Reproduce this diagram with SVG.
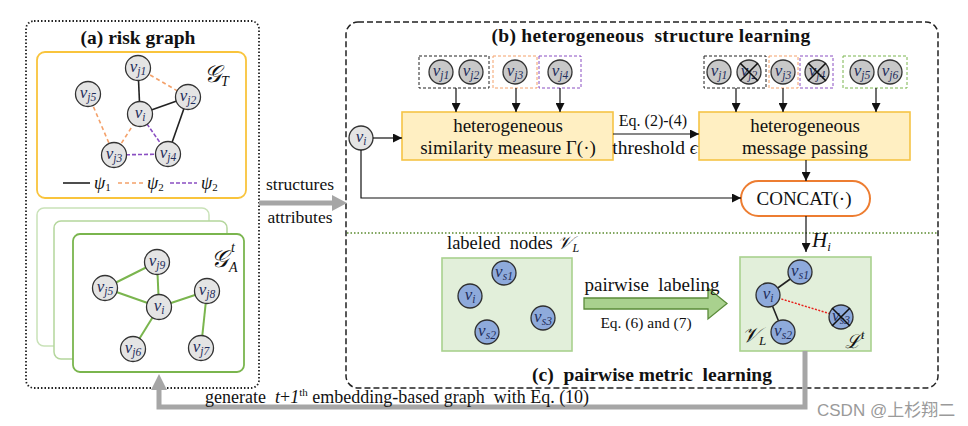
<svg xmlns="http://www.w3.org/2000/svg" width="968" height="426" viewBox="0 0 968 426">
<style>
text{font-family:"Liberation Serif","DejaVu Serif",serif;fill:#111}
.title{font-weight:bold;font-size:19.5px}
.lbl{font-size:19px}
.nd{fill:#e4e4e4;stroke:#333;stroke-width:1.3}
.ndg{fill:#c8c8c8;stroke:#333;stroke-width:1.3}
.ndb{fill:#8eaadb;stroke:#2f2f2f;stroke-width:1.3}
.nt{font-size:17px;font-style:italic;fill:#1f2d5a;text-anchor:middle}
.nt tspan.s{font-size:11.5px}
.k{stroke:#222;stroke-width:1.6;fill:none}
.o{stroke:#f4a16a;stroke-width:1.6;stroke-dasharray:4 3;fill:none}
.p{stroke:#8a4fc2;stroke-width:1.6;stroke-dasharray:4 2;fill:none}
.g{stroke:#7ab54e;stroke-width:2;fill:none}
.ar{stroke:#111;stroke-width:1.2;fill:none;marker-end:url(#ah)}
.yb{fill:#ffefc2;stroke:#f6c445;stroke-width:1.6}
.x{stroke:#111;stroke-width:1.6}
.math{font-style:italic}
</style>
<defs>
<marker id="ah" viewBox="0 0 10 10" refX="10" refY="5" markerWidth="9" markerHeight="9" markerUnits="userSpaceOnUse" orient="auto"><path d="M0,0 L10,5 L0,10 z" fill="#111"/></marker>
</defs>
<rect width="968" height="426" fill="#fff"/>

<g id="panel-a">
<rect x="26" y="21" width="233" height="367" rx="8" fill="none" stroke="#222" stroke-width="1.8" stroke-dasharray="1.5 2"/>
<text class="title" x="138" y="44" text-anchor="middle">(a) risk graph</text>
</g>
<g id="panel-bc">
<rect x="346" y="22" width="592" height="366" rx="12" fill="none" stroke="#222" stroke-width="1.5" stroke-dasharray="6 3"/>
<line x1="347" y1="233" x2="937" y2="233" stroke="#5a8a2e" stroke-width="1.5" stroke-dasharray="1.5 2"/>
<text class="title" x="651" y="42" text-anchor="middle" font-size="18.5" letter-spacing="0.3" xml:space="preserve">(b) heterogeneous  structure learning</text>
<text class="title" x="652" y="381" text-anchor="middle" xml:space="preserve">(c)  pairwise metric  learning</text>
</g>

<g id="graph-T">
<rect x="37" y="52" width="209" height="146" rx="8" fill="#fff" stroke="#f9c43c" stroke-width="1.8"/>
<line class="k" x1="138" y1="68" x2="140" y2="114"/>
<line class="k" x1="140" y1="114" x2="188" y2="97"/>
<line class="k" x1="188" y1="97" x2="168" y2="154"/>
<line class="o" x1="138" y1="68" x2="188" y2="97"/>
<line class="o" x1="88" y1="94" x2="114" y2="155"/>
<line class="o" x1="114" y1="155" x2="140" y2="114"/>
<line class="p" x1="140" y1="114" x2="168" y2="154"/>
<line class="p" x1="114" y1="155" x2="168" y2="154"/>
<g><circle class="nd" cx="138" cy="68" r="12.5"/><text class="nt" x="138" y="72">v<tspan class="s" dy="3">j1</tspan></text></g>
<g><circle class="nd" cx="88" cy="94" r="12.5"/><text class="nt" x="88" y="98">v<tspan class="s" dy="3">j5</tspan></text></g>
<g><circle class="nd" cx="188" cy="97" r="12.5"/><text class="nt" x="188" y="101">v<tspan class="s" dy="3">j2</tspan></text></g>
<g><circle class="nd" cx="140" cy="114" r="12.5"/><text class="nt" x="140" y="118">v<tspan class="s" dy="3">i</tspan></text></g>
<g><circle class="nd" cx="114" cy="155" r="12.5"/><text class="nt" x="114" y="159">v<tspan class="s" dy="3">j3</tspan></text></g>
<g><circle class="nd" cx="168" cy="154" r="12.5"/><text class="nt" x="168" y="158">v<tspan class="s" dy="3">j4</tspan></text></g>
<text x="204" y="82" font-size="24" class="math">𝒢<tspan font-size="14" dy="4">T</tspan></text>
<line class="k" x1="63" y1="183" x2="90" y2="183"/>
<text x="94" y="189" font-size="18" class="math" fill="#1f2d5a">ψ<tspan font-size="11" font-style="normal" dy="2">1</tspan></text>
<line class="o" x1="118" y1="183" x2="143" y2="183"/>
<text x="147" y="189" font-size="18" class="math" fill="#1f2d5a">ψ<tspan font-size="11" font-style="normal" dy="2">2</tspan></text>
<line class="p" x1="170" y1="183" x2="197" y2="183"/>
<text x="201" y="189" font-size="18" class="math" fill="#1f2d5a">ψ<tspan font-size="11" font-style="normal" dy="2">2</tspan></text>
</g>

<g id="graph-A">
<rect x="37" y="208" width="172" height="138" rx="7" fill="#fff" stroke="#c9e2b8" stroke-width="1.5"/>
<rect x="54" y="221" width="173" height="138" rx="7" fill="#fff" stroke="#b4d69c" stroke-width="1.5"/>
<rect x="73" y="234" width="171" height="138" rx="7" fill="#fff" stroke="#7ab54e" stroke-width="1.8"/>
<line class="g" x1="157" y1="262" x2="105" y2="288"/>
<line class="g" x1="157" y1="262" x2="159" y2="307"/>
<line class="g" x1="105" y1="288" x2="159" y2="307"/>
<line class="g" x1="159" y1="307" x2="207" y2="291"/>
<line class="g" x1="207" y1="291" x2="201" y2="348"/>
<line class="g" x1="159" y1="307" x2="133" y2="349"/>
<g><circle class="nd" cx="157" cy="262" r="12.5"/><text class="nt" x="157" y="266">v<tspan class="s" dy="3">j9</tspan></text></g>
<g><circle class="nd" cx="105" cy="288" r="12.5"/><text class="nt" x="105" y="292">v<tspan class="s" dy="3">j5</tspan></text></g>
<g><circle class="nd" cx="159" cy="307" r="12.5"/><text class="nt" x="159" y="311">v<tspan class="s" dy="3">i</tspan></text></g>
<g><circle class="nd" cx="207" cy="291" r="12.5"/><text class="nt" x="207" y="295">v<tspan class="s" dy="3">j8</tspan></text></g>
<g><circle class="nd" cx="133" cy="349" r="12.5"/><text class="nt" x="133" y="353">v<tspan class="s" dy="3">j6</tspan></text></g>
<g><circle class="nd" cx="201" cy="348" r="12.5"/><text class="nt" x="201" y="352">v<tspan class="s" dy="3">j7</tspan></text></g>
<text x="211" y="267" font-size="24" class="math">𝒢</text>
<text x="229" y="272" font-size="14" class="math">A</text>
<text x="231" y="252" font-size="14" class="math">t</text>
</g>

<g id="grp-b1">
<rect x="419" y="56" width="70" height="32" fill="#fff" stroke="#222" stroke-width="1" stroke-dasharray="3 2"/>
<circle class="ndg" cx="441" cy="72" r="12"/><text class="nt" x="441" y="76">v<tspan class="s" dy="3">j1</tspan></text>
<circle class="ndg" cx="471" cy="72" r="12"/><text class="nt" x="471" y="76">v<tspan class="s" dy="3">j2</tspan></text>
</g>
<g id="grp-b2">
<rect x="493" y="56" width="44" height="32" fill="#fff" stroke="#f4a16a" stroke-width="1" stroke-dasharray="3 2"/>
<circle class="ndg" cx="515" cy="72" r="12"/><text class="nt" x="515" y="76">v<tspan class="s" dy="3">j3</tspan></text>
</g>
<g id="grp-b3">
<rect x="539" y="56" width="42" height="32" fill="#fff" stroke="#8a4fc2" stroke-width="1" stroke-dasharray="3 2"/>
<circle class="ndg" cx="560" cy="72" r="12"/><text class="nt" x="560" y="76">v<tspan class="s" dy="3">j4</tspan></text>
</g>

<g id="grp-c1">
<rect x="704" y="56" width="62" height="32" fill="#fff" stroke="#222" stroke-width="1" stroke-dasharray="3 2"/>
<circle class="ndg" cx="719" cy="72" r="12"/><text class="nt" x="719" y="76">v<tspan class="s" dy="3">j1</tspan></text>
<circle class="ndg" cx="749" cy="72" r="12"/><text class="nt" x="749" y="76">v<tspan class="s" dy="3">j2</tspan></text>
<line class="x" x1="740" y1="63" x2="758" y2="81"/><line class="x" x1="758" y1="63" x2="740" y2="81"/>
</g>
<g id="grp-c2">
<rect x="769" y="56" width="29" height="32" fill="#fff" stroke="#f4a16a" stroke-width="1" stroke-dasharray="3 2"/>
<circle class="ndg" cx="783" cy="72" r="12"/><text class="nt" x="783" y="76">v<tspan class="s" dy="3">j3</tspan></text>
</g>
<g id="grp-c3">
<rect x="800" y="56" width="33" height="32" fill="#fff" stroke="#8a4fc2" stroke-width="1" stroke-dasharray="3 2"/>
<circle class="ndg" cx="817" cy="72" r="12"/><text class="nt" x="817" y="76">v<tspan class="s" dy="3">j4</tspan></text>
<line class="x" x1="808" y1="63" x2="826" y2="81"/><line class="x" x1="826" y1="63" x2="808" y2="81"/>
</g>
<g id="grp-c4">
<rect x="843" y="56" width="64" height="32" fill="#fff" stroke="#7ab54e" stroke-width="1" stroke-dasharray="3 2"/>
<circle class="ndg" cx="862" cy="72" r="12"/><text class="nt" x="862" y="76">v<tspan class="s" dy="3">j5</tspan></text>
<circle class="ndg" cx="890" cy="72" r="12"/><text class="nt" x="890" y="76">v<tspan class="s" dy="3">j6</tspan></text>
</g>

<g id="node-vi">
<circle class="nd" cx="361" cy="138" r="12"/><text class="nt" x="361" y="142">v<tspan class="s" dy="3">i</tspan></text>
</g>

<g id="sim-box">
<rect class="yb" x="402" y="112" width="211" height="48"/>
<text class="lbl" x="508" y="132" text-anchor="middle">heterogeneous</text>
<text class="lbl" x="508" y="154" text-anchor="middle">similarity measure Γ(·)</text>
</g>
<g id="msg-box">
<rect class="yb" x="699" y="112" width="211" height="48"/>
<text class="lbl" x="805" y="132" text-anchor="middle">heterogeneous</text>
<text class="lbl" x="805" y="154" text-anchor="middle">message passing</text>
</g>
<g id="concat">
<rect x="741" y="181" width="129" height="35" rx="17.5" fill="#fff" stroke="#ed7d31" stroke-width="2"/>
<text class="lbl" x="804" y="205" text-anchor="middle">CONCAT(·)</text>
</g>

<g id="labeled-nodes">
<text x="447" y="249" font-size="18.5" xml:space="preserve">labeled  nodes <tspan class="math">𝒱</tspan><tspan class="math" font-size="12" dy="3">L</tspan></text>
<rect x="442" y="258" width="130" height="93" fill="#e2efda" stroke="#a9d18e" stroke-width="1.6"/>
<circle class="ndb" cx="504" cy="273" r="12"/><text class="nt" x="504" y="277">v<tspan class="s" dy="3">s1</tspan></text>
<circle class="ndb" cx="470" cy="296" r="12"/><text class="nt" x="470" y="300">v<tspan class="s" dy="3">i</tspan></text>
<circle class="ndb" cx="543" cy="318" r="12"/><text class="nt" x="543" y="322">v<tspan class="s" dy="3">s3</tspan></text>
<circle class="ndb" cx="487" cy="332" r="12"/><text class="nt" x="487" y="336">v<tspan class="s" dy="3">s2</tspan></text>
</g>
<g id="pair-graph">
<rect x="740" y="257" width="131" height="94" fill="#e2efda" stroke="#a9d18e" stroke-width="1.6"/>
<line class="k" x1="768" y1="295" x2="800" y2="272"/>
<line class="k" x1="768" y1="295" x2="783" y2="332"/>
<line x1="768" y1="295" x2="841" y2="317" stroke="#e8221c" stroke-width="1.5" stroke-dasharray="2 1.5"/>
<circle class="ndb" cx="800" cy="272" r="12"/><text class="nt" x="800" y="276">v<tspan class="s" dy="3">s1</tspan></text>
<circle class="ndb" cx="768" cy="295" r="12"/><text class="nt" x="768" y="299">v<tspan class="s" dy="3">i</tspan></text>
<circle class="ndb" cx="783" cy="332" r="12"/><text class="nt" x="783" y="336">v<tspan class="s" dy="3">s2</tspan></text>
<circle class="ndb" cx="841" cy="317" r="12"/><text class="nt" x="841" y="321">v<tspan class="s" dy="3">s3</tspan></text>
<line class="x" x1="832" y1="308" x2="850" y2="326"/><line class="x" x1="850" y1="308" x2="832" y2="326"/>
<text x="742" y="342" font-size="21" class="math" fill="#1f2d5a">𝒱<tspan font-size="13" dy="3">L</tspan></text>
<text x="845" y="348" font-size="19" class="math" fill="#1f2d5a">ℒ<tspan font-size="12" dy="-9">t</tspan></text>
</g>

<g id="connectors">
<line class="ar" x1="456" y1="88" x2="456" y2="112"/>
<line class="ar" x1="516" y1="88" x2="516" y2="112"/>
<line class="ar" x1="560" y1="88" x2="560" y2="112"/>
<line class="ar" x1="736" y1="88" x2="736" y2="112"/>
<line class="ar" x1="783" y1="88" x2="783" y2="112"/>
<line class="ar" x1="876" y1="88" x2="876" y2="112"/>
<line class="ar" x1="373" y1="138" x2="402" y2="138"/>
<line class="ar" x1="613" y1="134" x2="699" y2="134"/>
<text x="653" y="126" font-size="16" text-anchor="middle">Eq. (2)-(4)</text>
<text x="655" y="154" font-size="19.5" text-anchor="middle">threshold <tspan class="math">ϵ</tspan></text>
<polyline class="ar" points="361,150 361,198 741,198"/>
<line class="ar" x1="806" y1="160" x2="806" y2="181"/>
<line class="ar" x1="806" y1="216" x2="806" y2="252"/>
<text x="812" y="247" font-size="21" class="math">H<tspan font-size="13" dy="4">i</tspan></text>
<path d="M584,298 H708 V288 L727,303.5 L708,319 V309 H584 Z" fill="#a9d18e" stroke="#5b8c3a" stroke-width="1.3"/>
<text x="652" y="291" font-size="19" text-anchor="middle" xml:space="preserve">pairwise  labeling</text>
<text x="646" y="328" font-size="15.5" text-anchor="middle">Eq. (6) and (7)</text>
<line x1="259" y1="203" x2="333" y2="203" stroke="#a6a6a6" stroke-width="5"/>
<polygon points="332,195 347,203 332,211" fill="#a6a6a6"/>
<text x="300" y="190" font-size="17.5" text-anchor="middle">structures</text>
<text x="300" y="223" font-size="17.5" text-anchor="middle">attributes</text>
<polyline points="805,351 805,407 159,407 159,388" fill="none" stroke="#a6a6a6" stroke-width="5"/>
<polygon points="151,390 167,390 159,374" fill="#a6a6a6"/>
<text x="205" y="403" font-size="18" xml:space="preserve">generate  <tspan class="math">t</tspan>+<tspan class="math">1</tspan><tspan font-size="11" dy="-7">th</tspan><tspan dy="7"> embedding-based graph  with Eq. (10)</tspan></text>
</g>

<text x="817" y="416" font-size="17" style="font-family:'Liberation Sans','Noto Sans CJK SC',sans-serif;fill:#9a9a9a">CSDN @上杉翔二</text>
</svg>
